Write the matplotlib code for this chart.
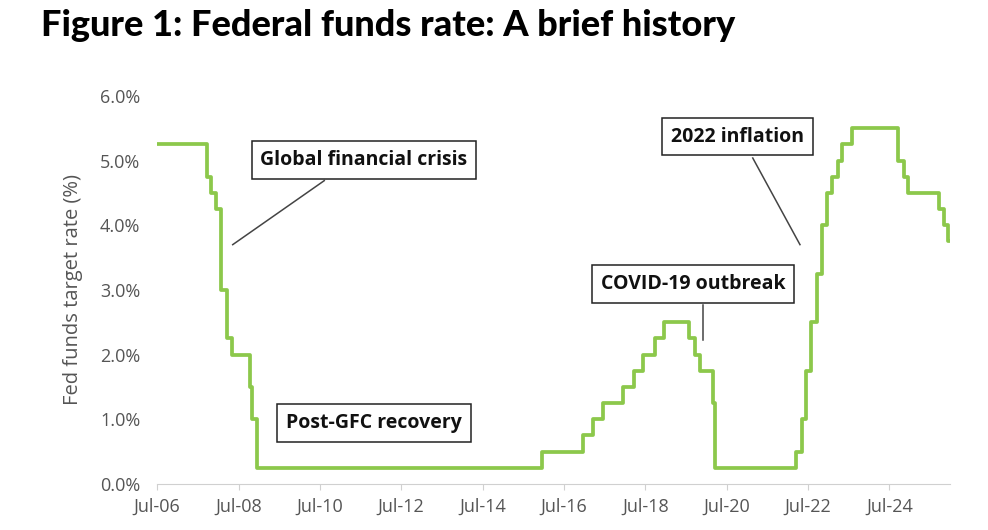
import matplotlib
matplotlib.use("Agg")
import matplotlib.pyplot as plt
import matplotlib.dates as mdates
import pandas as pd

# Fed funds target rate (upper bound), date of each change
dates = ["2006-07-01", "2007-09-18", "2007-10-31", "2007-12-11", "2008-01-22",
         "2008-01-30", "2008-03-18", "2008-04-30", "2008-10-08", "2008-10-29",
         "2008-12-16", "2015-12-17", "2016-12-15", "2017-03-16", "2017-06-15",
         "2017-12-14", "2018-03-22", "2018-06-14", "2018-09-27", "2018-12-20",
         "2019-08-01", "2019-09-19", "2019-10-31", "2020-03-04", "2020-03-16",
         "2022-03-17", "2022-05-05", "2022-06-16", "2022-07-28", "2022-09-22",
         "2022-11-03", "2022-12-15", "2023-02-02", "2023-03-23", "2023-05-04",
         "2023-07-27", "2024-09-19", "2024-11-08", "2024-12-19", "2025-09-18",
         "2025-10-30", "2025-12-11", "2025-12-31"]
rates = [5.25, 4.75, 4.50, 4.25, 3.50,
         3.00, 2.25, 2.00, 1.50, 1.00,
         0.25, 0.50, 0.75, 1.00, 1.25,
         1.50, 1.75, 2.00, 2.25, 2.50,
         2.25, 2.00, 1.75, 1.25, 0.25,
         0.50, 1.00, 1.75, 2.50, 3.25,
         4.00, 4.50, 4.75, 5.00, 5.25,
         5.50, 5.00, 4.75, 4.50, 4.25,
         4.00, 3.75, 3.75]

tick_dates = ["2006-07-01", "2008-07-01", "2010-07-01", "2012-07-01", "2014-07-01",
              "2016-07-01", "2018-07-01", "2020-07-01", "2022-07-01", "2024-07-01"]
y_ticks = [0, 1, 2, 3, 4, 5, 6]

# annotation boxes: label, box centre (date, rate), leader line (from, to)
notes = [
    ("Global financial crisis", ("2011-08-01", 5.01), [("2010-08-10", 4.69), ("2008-05-10", 3.70)]),
    ("2022 inflation", ("2020-10-05", 5.37), [("2021-02-20", 5.04), ("2022-04-20", 3.70)]),
    ("COVID-19 outbreak", ("2019-09-01", 3.09), [("2019-12-01", 2.77), ("2019-12-01", 2.23)]),
    ("Post-GFC recovery", ("2011-11-01", 0.94), None),
]

x = pd.to_datetime(dates)

fig = plt.figure(figsize=(9.88, 5.30), dpi=100)
ax = fig.add_axes([0.159, 0.087, 0.803, 0.732])

ax.step(x, rates, where="post", color="#8cc84b", linewidth=2.7)

ax.set_xlim(pd.Timestamp("2006-07-01"), pd.Timestamp("2025-12-31"))
ax.set_ylim(0, 6)
ax.set_xticks(pd.to_datetime(tick_dates))
ax.xaxis.set_major_formatter(mdates.DateFormatter("%b-%y"))
ax.set_yticks(y_ticks)
ax.set_yticklabels([f"{v:.1f}%" for v in y_ticks])

for s in ["top", "right", "left"]:
    ax.spines[s].set_visible(False)
ax.spines["bottom"].set_color("#d0d0d0")
ax.tick_params(axis="x", colors="#d0d0d0", length=4, labelcolor="#555555", labelsize=13, pad=6)
ax.tick_params(axis="y", length=0, labelcolor="#555555", labelsize=13, pad=12)
for lab in ax.get_xticklabels() + ax.get_yticklabels():
    lab.set_fontfamily("Open Sans")

ax.set_ylabel("Fed funds target rate (%)", color="#555555", fontsize=14.5,
              fontfamily="Open Sans", labelpad=12)

for label, (bx, by), leader in notes:
    ax.text(pd.Timestamp(bx), by, label, ha="center", va="center", fontsize=14,
            fontweight="bold", fontfamily="Open Sans", color="#111111",
            bbox=dict(boxstyle="square,pad=0.45", facecolor="white",
                      edgecolor="#222222", linewidth=1.1), zorder=4)
    if leader:
        ax.plot([pd.Timestamp(leader[0][0]), pd.Timestamp(leader[1][0])],
                [leader[0][1], leader[1][1]], color="#444444", linewidth=1.1, zorder=3)

fig.text(0.042, 0.952, "Figure 1: Federal funds rate: A brief history", fontsize=26,
         fontweight="black", fontfamily="Lato", color="black", va="center", ha="left")

fig.savefig("out.png", dpi=100)
